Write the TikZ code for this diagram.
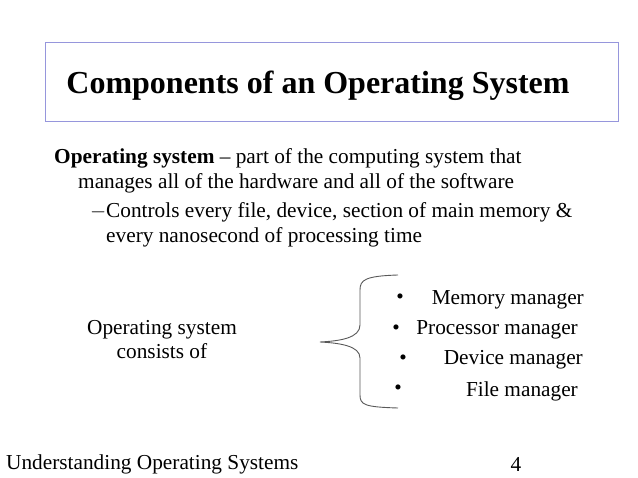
\documentclass[tikz,border=0pt]{standalone}
\usepackage{fontspec}
\setmainfont{Liberation Serif}
\begin{document}
\begin{tikzpicture}[x=1pt,y=-1pt,
  txt/.style={inner sep=0pt,anchor=west,font=\fontsize{21.3}{24}\selectfont},
  bul/.style={inner sep=0pt,font=\fontsize{21.3}{24}\selectfont}]
\useasboundingbox[fill=white] (0,0) rectangle (638,478);
\node[draw={rgb,255:red,150;green,150;blue,220},line width=0.8pt,minimum width=573pt,minimum height=79pt,anchor=north west] (title) at (45,42) {};
\node[font=\bfseries\fontsize{32}{36}\selectfont,inner sep=0pt] (tt) at (318,86) {Components of an Operating System};
\node[txt] (l1) at (54,158) {\textbf{Operating system} -- part of the computing system that};
\node[txt] (l2) at (78,183) {manages all of the hardware and all of the software};
\node[txt] (l3) at (90,212) {\makebox[16pt][l]{$-$}Controls every file, device, section of main memory \&};
\node[txt] (l4) at (106,237) {every nanosecond of processing time};
\node[bul,align=center] (os) at (162,340) {Operating system\\consists of};
\draw[line width=0.9pt,gray!70!black] (398,275) .. controls (365,276) and (360,280) .. (360,290) -- (360,325) .. controls (360,338) and (340,341) .. (320,342) .. controls (340,343) and (360,346) .. (360,358) -- (360,395) .. controls (360,405) and (365,407) .. (398,408);
\node[bul] (b1) at (400,299) {•};
\node[bul,anchor=east] (m1) at (584,300) {Memory manager};
\node[bul] (b2) at (396,330) {•};
\node[bul,anchor=east] (m2) at (578,330) {Processor manager};
\node[bul] (b3) at (403,360) {•};
\node[bul,anchor=east] (m3) at (583,360) {Device manager};
\node[bul] (b4) at (398,390) {•};
\node[bul,anchor=east] (m4) at (578,391) {File manager};
\node[bul,anchor=west] (f1) at (6,464) {Understanding Operating Systems};
\node[bul] (f2) at (516,464) {4};
\end{tikzpicture}
\end{document}
